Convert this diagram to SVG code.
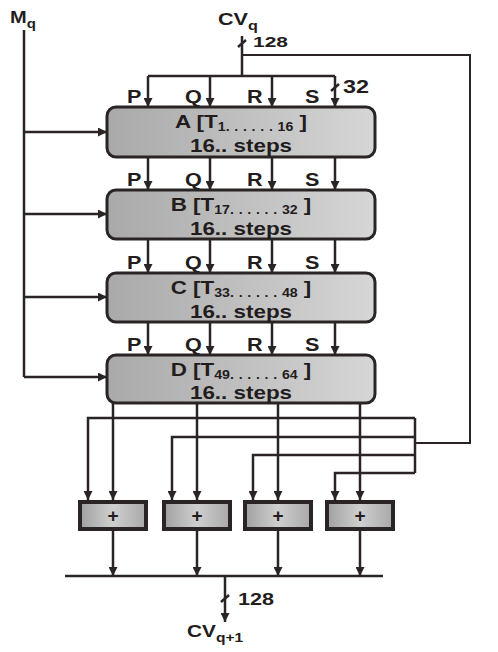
<svg xmlns="http://www.w3.org/2000/svg" width="498" height="652" viewBox="0 0 498 652">
<defs>
<linearGradient id="gBox" x1="0" y1="0" x2="1" y2="0">
<stop offset="0" stop-color="#a9a9a9"/>
<stop offset="1" stop-color="#d6d6d6"/>
</linearGradient>
<linearGradient id="gAdd" x1="0" y1="0" x2="1" y2="0">
<stop offset="0" stop-color="#a0a0a0"/>
<stop offset="0.5" stop-color="#cfcfcf"/>
<stop offset="1" stop-color="#a8a8a8"/>
</linearGradient>
<marker id="ah" viewBox="0 0 10 10" refX="10" refY="5" markerWidth="9" markerHeight="9" markerUnits="userSpaceOnUse" orient="auto">
<path d="M0,0 L10,5 L0,10 z" fill="#2b2424"/>
</marker>
<style>
.w{fill:none;stroke:#2b2424;stroke-width:2.5}
.fb{fill:none;stroke:#2b2424;stroke-width:2}
.a{marker-end:url(#ah)}
.box{fill:url(#gBox);stroke:#2b2424;stroke-width:3}
.add{fill:url(#gAdd);stroke:#2b2424;stroke-width:4}
text{font-family:"Liberation Sans",Arial,sans-serif;font-weight:bold;fill:#231c1c}
.lbl{font-size:18px}
.bt{font-size:19px}
.sub{font-size:12px}
.dots{letter-spacing:4px}
.pl{font-size:16px}
.plus{font-size:19px}
</style>
</defs>
<rect width="498" height="652" fill="#ffffff"/>

<g id="connectors">
<path class="w" d="M24,30 V377"/>
<path class="w a" d="M24,132 H107"/>
<path class="w a" d="M24,214 H107"/>
<path class="w a" d="M24,297 H107"/>
<path class="w a" d="M24,377 H107"/>
<path class="w" d="M242,36 V76 M148,76 H335"/>
<path class="w" d="M238,47 L246,40"/>
<path class="w a" d="M148,76 V107"/>
<path class="w a" d="M210,76 V107"/>
<path class="w a" d="M272,76 V107"/>
<path class="w a" d="M335,76 V107"/>
<path class="w" d="M331,91 L339,84"/>
<path class="w a" d="M148,157 V190"/>
<path class="w a" d="M210,157 V190"/>
<path class="w a" d="M272,157 V190"/>
<path class="w a" d="M335,157 V190"/>
<path class="w a" d="M148,239 V273"/>
<path class="w a" d="M210,239 V273"/>
<path class="w a" d="M272,239 V273"/>
<path class="w a" d="M335,239 V273"/>
<path class="w a" d="M148,322 V355"/>
<path class="w a" d="M210,322 V355"/>
<path class="w a" d="M272,322 V355"/>
<path class="w a" d="M335,322 V355"/>
<path class="fb" d="M242,55 H470 V443 H415"/>
<path class="w" d="M415,418 V473"/>
<path class="w a" d="M415,418 H88 V500"/>
<path class="w a" d="M415,437 H172 V500"/>
<path class="w a" d="M415,455 H253 V500"/>
<path class="w a" d="M415,473 H335 V500"/>
<path class="w a" d="M113,403 V500"/>
<path class="w a" d="M197,403 V500"/>
<path class="w a" d="M278,403 V500"/>
<path class="w a" d="M360,403 V500"/>
<path class="w a" d="M113,530 V576"/>
<path class="w a" d="M197,530 V576"/>
<path class="w a" d="M278,530 V576"/>
<path class="w a" d="M360,530 V576"/>
<path class="w" d="M65,576 H383"/>
<path class="w a" d="M225,576 V622"/>
<path class="w" d="M221,602 L229,595"/>
</g>

<g id="labels">
<text class="pl" transform="translate(10,23) scale(1.25,1)">M<tspan class="sub" dy="5">q</tspan></text>
<text class="pl" transform="translate(218,25) scale(1.35,1)">CV<tspan class="sub" dy="5">q</tspan></text>
<text style="font-size:15px" transform="translate(253,47) scale(1.4,1)">128</text>
<text class="lbl" transform="translate(343,93) scale(1.3,1)">32</text>
<text class="pl" transform="translate(238,605) scale(1.35,1)">128</text>
<text class="pl" transform="translate(187,637) scale(1.3,1)">CV<tspan class="sub" dy="5">q+1</tspan></text>
</g>

<g id="pqrs">
<text class="lbl" transform="translate(127,103) scale(1.2,1)">P</text>
<text class="lbl" transform="translate(185,103) scale(1.2,1)">Q</text>
<text class="lbl" transform="translate(247,103) scale(1.2,1)">R</text>
<text class="lbl" transform="translate(305,103) scale(1.2,1)">S</text>
<text class="lbl" transform="translate(127,186) scale(1.2,1)">P</text>
<text class="lbl" transform="translate(185,186) scale(1.2,1)">Q</text>
<text class="lbl" transform="translate(247,186) scale(1.2,1)">R</text>
<text class="lbl" transform="translate(305,186) scale(1.2,1)">S</text>
<text class="lbl" transform="translate(127,269) scale(1.2,1)">P</text>
<text class="lbl" transform="translate(185,269) scale(1.2,1)">Q</text>
<text class="lbl" transform="translate(247,269) scale(1.2,1)">R</text>
<text class="lbl" transform="translate(305,269) scale(1.2,1)">S</text>
<text class="lbl" transform="translate(127,351) scale(1.2,1)">P</text>
<text class="lbl" transform="translate(185,351) scale(1.2,1)">Q</text>
<text class="lbl" transform="translate(247,351) scale(1.2,1)">R</text>
<text class="lbl" transform="translate(305,351) scale(1.2,1)">S</text>
</g>

<g id="nodeA">
<rect class="box" x="107" y="107" width="268" height="50" rx="9"/>
<text class="bt" text-anchor="middle" transform="translate(241,128) scale(1.18,1)">A [T<tspan class="sub" dy="3">1</tspan><tspan class="sub dots">......</tspan><tspan class="sub">16</tspan><tspan dy="-3"> ]</tspan></text>
<text class="bt" text-anchor="middle" transform="translate(241,152) scale(1.18,1)">16.. steps</text>
</g>
<g id="nodeB">
<rect class="box" x="107" y="190" width="268" height="49" rx="9"/>
<text class="bt" text-anchor="middle" transform="translate(241,211) scale(1.18,1)">B [T<tspan class="sub" dy="3">17</tspan><tspan class="sub dots">......</tspan><tspan class="sub">32</tspan><tspan dy="-3"> ]</tspan></text>
<text class="bt" text-anchor="middle" transform="translate(241,235) scale(1.18,1)">16.. steps</text>
</g>
<g id="nodeC">
<rect class="box" x="107" y="273" width="268" height="49" rx="9"/>
<text class="bt" text-anchor="middle" transform="translate(241,294) scale(1.18,1)">C [T<tspan class="sub" dy="3">33</tspan><tspan class="sub dots">......</tspan><tspan class="sub">48</tspan><tspan dy="-3"> ]</tspan></text>
<text class="bt" text-anchor="middle" transform="translate(241,318) scale(1.18,1)">16.. steps</text>
</g>
<g id="nodeD">
<rect class="box" x="107" y="355" width="268" height="48" rx="9"/>
<text class="bt" text-anchor="middle" transform="translate(241,376) scale(1.18,1)">D [T<tspan class="sub" dy="3">49</tspan><tspan class="sub dots">......</tspan><tspan class="sub">64</tspan><tspan dy="-3"> ]</tspan></text>
<text class="bt" text-anchor="middle" transform="translate(241,399) scale(1.18,1)">16.. steps</text>
</g>

<g id="adder1">
<rect class="add" x="80" y="502" width="66" height="27"/>
<text class="plus" text-anchor="middle" x="113" y="522">+</text>
</g>
<g id="adder2">
<rect class="add" x="164" y="502" width="66" height="27"/>
<text class="plus" text-anchor="middle" x="197" y="522">+</text>
</g>
<g id="adder3">
<rect class="add" x="245" y="502" width="66" height="27"/>
<text class="plus" text-anchor="middle" x="278" y="522">+</text>
</g>
<g id="adder4">
<rect class="add" x="327" y="502" width="66" height="27"/>
<text class="plus" text-anchor="middle" x="360" y="522">+</text>
</g>
</svg>
